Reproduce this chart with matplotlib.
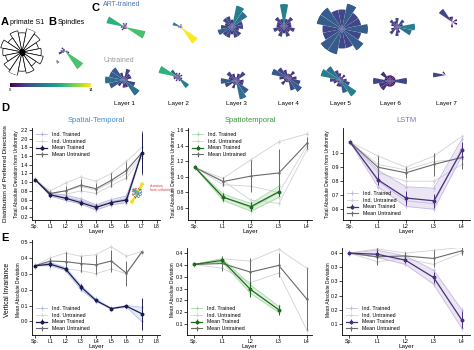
import numpy as np
import matplotlib
matplotlib.use("Agg")
import matplotlib.pyplot as plt
from matplotlib.colors import Normalize

# ---------------- data ----------------
layers_long = ["Sp.", "L1", "L2", "L3", "L4", "L5", "L6", "L7", "L8"]
layers_short = ["Sp.", "L1", "L2", "L3", "L4"]
rose_layers = ["Layer 1", "Layer 2", "Layer 3", "Layer 4", "Layer 5", "Layer 6", "Layer 7"]

# rose counts, 16 direction bins (0 deg = east, counter-clockwise)
primate_counts = [8, 7, 9, 10, 8, 9, 7, 9, 8, 7, 9, 10, 8, 9, 7, 9]
spindle_counts = [1, 0, 0, 0, 0, 1, 2, 1, 2, 3, 1, 0, 0, 0, 10, 2]
trained_counts = [
    [1, 0, 1, 2, 1, 2, 1, 9, 2, 1, 2, 1, 1, 1, 1, 10],
    [1, 0, 1, 0, 2, 1, 1, 6, 2, 1, 1, 0, 1, 0, 14, 1],
    [3, 3, 5, 6, 2, 3, 3, 2, 3, 4, 3, 3, 2, 3, 3, 2],
    [2, 2, 3, 2, 6, 2, 3, 2, 2, 3, 2, 3, 2, 3, 2, 3],
    [4, 3, 3, 4, 3, 3, 4, 4, 3, 3, 4, 4, 3, 3, 4, 3],
    [6, 2, 3, 1, 3, 2, 3, 2, 1, 2, 3, 1, 3, 2, 1, 5],
    [0, 1, 0, 0, 1, 1, 3, 0, 0, 0, 0, 0, 1, 0, 0, 1],
]
untrained_counts = [
    [1, 2, 2, 3, 1, 2, 4, 4, 5, 4, 2, 1, 2, 2, 5, 3],
    [1, 2, 1, 2, 1, 2, 4, 9, 2, 2, 1, 2, 1, 2, 6, 2],
    [2, 1, 3, 2, 1, 2, 3, 2, 4, 3, 1, 2, 1, 5, 4, 2],
    [2, 1, 2, 1, 1, 2, 3, 4, 2, 1, 2, 1, 1, 3, 4, 3],
    [2, 1, 2, 1, 2, 3, 5, 6, 3, 2, 1, 2, 2, 4, 6, 3],
    [3, 1, 1, 1, 1, 1, 2, 1, 3, 2, 2, 1, 1, 1, 1, 1],
    [0, 0, 0, 0, 0, 0, 1, 0, 3, 0, 0, 0, 0, 0, 0, 0],
]

# D: distribution of preferred directions
st_tr_mean = [1.06, 0.71, 0.63, 0.53, 0.42, 0.53, 0.59, 1.67]
st_tr_err = [0.0, 0.04, 0.05, 0.06, 0.07, 0.05, 0.07, 0.45]
st_un_mean = [1.06, 0.74, 0.80, 0.93, 0.85, 1.04, 1.27, 1.67]
st_un_err = [0.0, 0.06, 0.12, 0.14, 0.12, 0.16, 0.2, 0.5]
st_tr_ind = [[1.06, 0.75, 0.70, 0.62, 0.48, 0.60, 0.68, 1.67],
             [1.06, 0.68, 0.58, 0.50, 0.36, 0.48, 0.53, 1.67],
             [1.06, 0.72, 0.65, 0.57, 0.45, 0.55, 0.62, 1.67]]
st_un_ind = [[1.06, 0.80, 0.98, 1.12, 1.02, 1.20, 1.48, 1.80],
             [1.06, 0.74, 0.80, 0.90, 0.82, 1.00, 1.20, 1.60],
             [1.06, 0.70, 0.72, 0.80, 0.74, 0.92, 1.10, 1.55]]

spt_tr_mean = [1.12, 0.74, 0.62, 0.81]
spt_tr_err = [0.0, 0.05, 0.06, 0.06]
spt_un_mean = [1.12, 0.94, 1.01, 1.05, 1.43]
spt_un_err = [0.0, 0.06, 0.2, 0.3, 0.08]
spt_tr_ind = [[1.12, 0.78, 0.66, 0.88], [1.12, 0.70, 0.56, 0.74], [1.12, 0.74, 0.60, 0.80]]
spt_un_ind = [[1.12, 0.98, 1.22, 1.45, 1.55], [1.12, 0.90, 0.88, 0.80, 1.40], [1.12, 0.95, 0.70, 0.66, 1.35]]

lstm_tr_mean = [1.08, 0.81, 0.68, 0.66, 1.02]
lstm_tr_err = [0.0, 0.04, 0.05, 0.05, 0.06]
lstm_un_mean = [1.08, 0.90, 0.86, 0.92, 0.97]
lstm_un_err = [0.0, 0.08, 0.04, 0.08, 0.08]
lstm_tr_ind = [[1.08, 0.88, 0.76, 0.75, 1.10], [1.08, 0.76, 0.62, 0.60, 0.98], [1.08, 0.80, 0.66, 0.64, 1.04]]
lstm_un_ind = [[1.08, 0.98, 0.90, 0.98, 1.12], [1.08, 0.86, 0.80, 0.80, 0.92], [1.08, 0.92, 0.88, 0.94, 0.96]]

# E: vertical invariance
e_st_tr_mean = [0.35, 0.36, 0.33, 0.218, 0.132, 0.081, 0.096, 0.049]
e_st_tr_err = [0.0, 0.02, 0.015, 0.02, 0.012, 0.008, 0.01, 0.1]
e_st_un_mean = [0.35, 0.38, 0.376, 0.364, 0.356, 0.38, 0.303, 0.437]
e_st_un_err = [0.0, 0.02, 0.06, 0.05, 0.06, 0.07, 0.08, 0.0]
e_st_tr_ind = [[0.35, 0.37, 0.34, 0.23, 0.14, 0.085, 0.10, 0.09],
               [0.35, 0.35, 0.32, 0.20, 0.125, 0.078, 0.09, 0.0]]
e_st_un_ind = [[0.35, 0.40, 0.43, 0.41, 0.42, 0.47, 0.41, 0.44],
               [0.35, 0.37, 0.33, 0.32, 0.30, 0.33, 0.30, 0.43]]

e_spt_tr_mean = [0.376, 0.393, 0.271, 0.186]
e_spt_tr_err = [0.0, 0.012, 0.03, 0.02]
e_spt_un_mean = [0.376, 0.38, 0.344, 0.372, 0.23]
e_spt_un_err = [0.0, 0.03, 0.06, 0.05, 0.13]
e_spt_tr_ind = [[0.376, 0.40, 0.29, 0.20], [0.376, 0.385, 0.255, 0.175]]
e_spt_un_ind = [[0.376, 0.40, 0.39, 0.44, 0.36], [0.376, 0.36, 0.30, 0.34, 0.10]]
e_spt_ticks = [0.425, 0.375, 0.325, 0.275, 0.225, 0.175, 0.125]
e_spt_ticklabels = ["0.4", "0.4", "0.3", "0.3", "0.2", "0.2", "0.1"]

e_lstm_tr_mean = [0.40, 0.396, 0.375, 0.314, 0.164]
e_lstm_tr_err = [0.0, 0.015, 0.01, 0.02, 0.03]
e_lstm_un_mean = [0.40, 0.387, 0.39, 0.381, 0.408]
e_lstm_un_err = [0.0, 0.03, 0.015, 0.03, 0.015]
e_lstm_tr_ind = [[0.40, 0.41, 0.39, 0.34, 0.20], [0.40, 0.385, 0.36, 0.29, 0.135]]
e_lstm_un_ind = [[0.40, 0.415, 0.40, 0.41, 0.42], [0.40, 0.37, 0.38, 0.36, 0.40]]
e_lstm_ticks = [0.40, 0.35, 0.30, 0.25, 0.20, 0.15]
e_lstm_ticklabels = ["0.4", "0.3", "0.3", "0.2", "0.2", "0.1"]

# ---------------- figure ----------------
plt.rcParams["font.family"] = ["Liberation Sans", "DejaVu Sans"]
W, H = 474, 350
fig = plt.figure(figsize=(W / 100, H / 100), dpi=100)
cmap = plt.get_cmap("viridis")
norm = Normalize(0, 14)


def px_axes(x0, y0, x1, y1, **kw):
    return fig.add_axes([x0 / W, 1 - y1 / H, (x1 - x0) / W, (y1 - y0) / H], **kw)


def rose(cx, cy, r, counts, white=False):
    ax = px_axes(cx - r, cy - r, cx + r, cy + r, projection="polar")
    n = len(counts)
    theta = np.arange(n) * 2 * np.pi / n
    c = np.array(counts, dtype=float)
    if white:
        ax.bar(theta, c, width=2 * np.pi / n, color="white", edgecolor="black", linewidth=0.5)
        ax.plot([0], [0], "ks", ms=3)
    else:
        ax.bar(theta, c, width=2 * np.pi / n * 0.98, color=cmap(norm(c)), edgecolor="none")
    ax.set_ylim(0, c.max())
    ax.set_axis_off()
    return ax


def letter(x, y, s):
    fig.text(x / W, 1 - y / H, s, fontsize=8, fontweight="bold", va="center", ha="left")


# top row
letter(1, 22, "A")
fig.text(10 / W, 1 - 22 / H, "primate S1", fontsize=5, va="center")
rose(22, 52, 24, primate_counts, white=True)

letter(48, 22, "B")
fig.text(58 / W, 1 - 22 / H, "Spindles", fontsize=5, va="center")
rose(65, 51, 22, spindle_counts)
fig.text(56 / W, 1 - 62 / H, "Sp.", fontsize=2.5, va="center")

cax = px_axes(10, 83, 91, 87)
cb = fig.colorbar(plt.cm.ScalarMappable(norm=norm, cmap=cmap), cax=cax, orientation="horizontal")
cb.set_ticks([0, 14])
cb.outline.set_visible(False)
cax.tick_params(labelsize=3, length=0, pad=1)

letter(92, 8, "C")
fig.text(103 / W, 1 - 5 / H, "ART-trained", fontsize=5, color="#4a78b0", va="center")
fig.text(103 / W, 1 - 60 / H, "Untrained", fontsize=5, color="#999999", va="center")

tr_pos = [(125, 27, 21), (181, 27, 20), (232, 27, 22), (284, 26, 22), (342, 29, 26), (397, 27, 18), (452, 22, 16)]
un_pos = [(124, 80, 19), (178, 77, 20), (236, 81, 19), (288, 78, 17), (340, 80, 20), (390, 81, 17), (446, 75, 13)]
for i in range(7):
    rose(*tr_pos[i], trained_counts[i])
    rose(*un_pos[i], untrained_counts[i])
    fig.text(un_pos[i][0] / W, 1 - 104 / H, rose_layers[i], fontsize=4.5, ha="center", va="center")

# line panels
un_col = "#6a6a6a"
un_ind_col = "#d2d2d2"


def line_panel(rect, xticks, tr_mean, tr_err, un_mean, un_err, tr_ind, un_ind,
               tr_col, tr_ind_col, ylim, xlim, legend_loc):
    ax = px_axes(*rect)
    ind_err = 0.03 * (ylim[1] - ylim[0])
    for k, v in enumerate(un_ind):
        ax.errorbar(range(len(v)), v, yerr=ind_err, color=un_ind_col, lw=0.6, elinewidth=0.4,
                    marker="+", ms=2, label="Ind. Untrained" if k == 0 else None, zorder=1)
    for k, v in enumerate(tr_ind):
        ax.errorbar(range(len(v)), v, yerr=ind_err, color=tr_ind_col, lw=0.6, elinewidth=0.4,
                    marker="+", ms=2, label="Ind. Trained" if k == 0 else None, zorder=2)
    lo = np.min(np.array(tr_ind), axis=0)
    hi = np.max(np.array(tr_ind), axis=0)
    ax.fill_between(range(len(lo)), lo, hi, color=tr_ind_col, alpha=0.35, lw=0, zorder=2)
    ax.errorbar(range(len(tr_mean)), tr_mean, yerr=tr_err, color=tr_col, lw=0.9, elinewidth=0.7,
                marker="o", ms=1.8, label="Mean Trained", zorder=4)
    ax.errorbar(range(len(un_mean)), un_mean, yerr=un_err, color=un_col, lw=0.8, elinewidth=0.7,
                marker="+", ms=2, label="Mean Untrained", zorder=3)
    ax.set_xticks(range(len(xticks)))
    ax.set_xticklabels(xticks)
    ax.set_xlim(*xlim)
    ax.set_ylim(*ylim)
    for s in ["top", "right"]:
        ax.spines[s].set_visible(False)
    for s in ["left", "bottom"]:
        ax.spines[s].set_linewidth(0.6)
    ax.tick_params(labelsize=3.8, length=2, width=0.5, pad=0.8)
    ax.set_xlabel("Layer", fontsize=4.5, labelpad=0.3)
    h, l = ax.get_legend_handles_labels()
    order = [l.index(n) for n in ["Ind. Trained", "Ind. Untrained", "Mean Trained", "Mean Untrained"]]
    ax.legend([h[i] for i in order], [l[i] for i in order], loc=legend_loc, fontsize=3.8,
              frameon=False, handlelength=2.2, borderaxespad=0.3, labelspacing=0.35)
    return ax


letter(1, 108, "D")
ax1 = line_panel((32, 128, 160, 220), layers_long, st_tr_mean, st_tr_err, st_un_mean, st_un_err,
                 st_tr_ind, st_un_ind, "#1c1c50", "#b4b4dc", (0.13, 2.245), (-0.2, 8.2), "upper left")
ax1.set_yticks(np.round(np.arange(0.2, 2.21, 0.2), 1))
ax1.set_title("Spatial-Temporal", fontsize=5.5, color="#3d8fd1", pad=4)
fig.text(6 / W, 1 - 174 / H, "Distribution of Preferred Directions", rotation=90, fontsize=4.6,
         ha="center", va="center")
fig.text(17 / W, 1 - 174 / H, "Total Absolute Deviation from Uniformity", rotation=90, fontsize=3.5,
         ha="center", va="center")

# small inset rose with deviation circle
ins = px_axes(125, 181, 149, 205, projection="polar")
ins_counts = [2, 1, 3, 2, 1, 2, 3, 2, 1, 2, 1, 3, 2, 1, 2, 1]
th = np.arange(16) * 2 * np.pi / 16
ins.bar(th, ins_counts, width=2 * np.pi / 16, color=cmap(norm(np.array(ins_counts) * 3)), edgecolor="none")
ins.bar([np.deg2rad(60), np.deg2rad(240)], [6, 6], width=0.35, color="#f0e020", edgecolor="none")
ins.plot(np.linspace(0, 2 * np.pi, 100), np.full(100, 2.3), color="#d03030", lw=0.5, ls="--")
ins.set_ylim(0, 6)
ins.set_axis_off()
fig.text(150 / W, 1 - 188 / H, "deviation\nfrom uniformity", fontsize=2.4, color="#e03030", va="center")

ax2 = line_panel((188, 128, 312, 220), layers_short, spt_tr_mean, spt_tr_err, spt_un_mean, spt_un_err,
                 spt_tr_ind, spt_un_ind, "#1e6b1e", "#a8d8a8", (0.448, 1.625), (-0.25, 4.18), "upper left")
ax2.set_yticks([0.6, 0.8, 1.0, 1.2, 1.4, 1.6])
ax2.set_title("Spatiotemporal", fontsize=5.5, color="#3a9a3a", pad=4)
fig.text(173 / W, 1 - 174 / H, "Total Absolute Deviation from Uniformity", rotation=90, fontsize=3.5,
         ha="center", va="center")

ax3 = line_panel((343, 128, 470, 220), layers_short, lstm_tr_mean, lstm_tr_err, lstm_un_mean, lstm_un_err,
                 lstm_tr_ind, lstm_un_ind, "#48307a", "#c8b8e0", (0.523, 1.18), (-0.25, 4.29), "lower left")
ax3.set_yticks([0.6, 0.7, 0.8, 0.9, 1.0])
ax3.set_title("LSTM", fontsize=5.5, color="#8a6cc0", pad=4)
fig.text(328 / W, 1 - 174 / H, "Total Absolute Deviation from Uniformity", rotation=90, fontsize=3.5,
         ha="center", va="center")

letter(1, 238, "E")
bx1 = line_panel((32, 240, 160, 335), layers_long, e_st_tr_mean, e_st_tr_err, e_st_un_mean, e_st_un_err,
                 e_st_tr_ind, e_st_un_ind, "#1c1c50", "#b4c4e8", (-0.085, 0.512), (-0.2, 8.2), "lower left")
bx1.set_yticks([0.0, 0.1, 0.2, 0.3, 0.4, 0.5])
fig.text(8 / W, 1 - 290 / H, "Vertical Invariance", rotation=90, fontsize=4.8, ha="center", va="center")
fig.text(18 / W, 1 - 290 / H, "Mean Absolute Deviation", rotation=90, fontsize=3.5, ha="center", va="center")

bx2 = line_panel((187, 248, 312, 335), layers_short, e_spt_tr_mean, e_spt_tr_err, e_spt_un_mean, e_spt_un_err,
                 e_spt_tr_ind, e_spt_un_ind, "#1e6b1e", "#a8d8a8", (0.08, 0.445), (-0.25, 4.18), "lower left")
bx2.set_yticks(e_spt_ticks)
bx2.set_yticklabels(e_spt_ticklabels)
fig.text(173 / W, 1 - 290 / H, "Mean Absolute Deviation", rotation=90, fontsize=3.5, ha="center", va="center")

bx3 = line_panel((342, 248, 470, 335), layers_short, e_lstm_tr_mean, e_lstm_tr_err, e_lstm_un_mean, e_lstm_un_err,
                 e_lstm_tr_ind, e_lstm_un_ind, "#48307a", "#c8b8e0", (0.111, 0.418), (-0.25, 4.29), "lower left")
bx3.set_yticks(e_lstm_ticks)
bx3.set_yticklabels(e_lstm_ticklabels)
fig.text(328 / W, 1 - 290 / H, "Mean Absolute Deviation", rotation=90, fontsize=3.5, ha="center", va="center")

fig.savefig("out.png", dpi=100, facecolor="white")
